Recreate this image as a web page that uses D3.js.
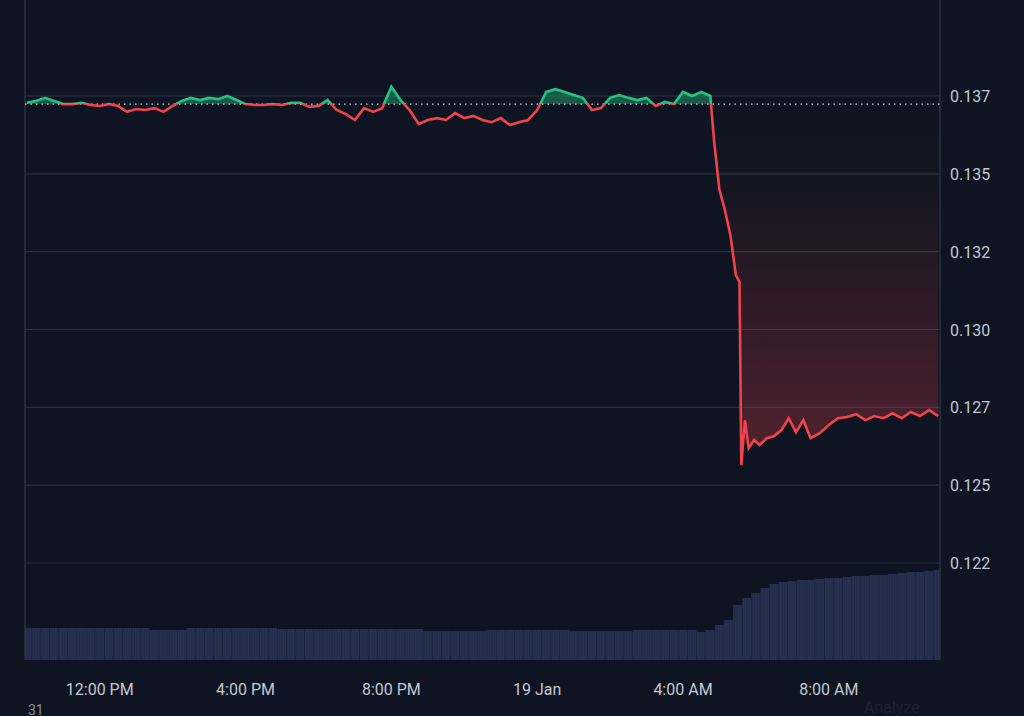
<!DOCTYPE html><html><head><meta charset="utf-8">
<script src="https://cdn.jsdelivr.net/npm/d3@7"></script>
<style>body{margin:0;background:#0e1421;}svg{display:block}</style></head><body>
<script>
const hours=[0,0.25,0.5,0.75,1,1.25,1.5,1.75,2,2.25,2.5,2.75,3,3.25,3.5,3.75,4,4.25,4.5,4.75,5,5.25,5.5,5.75,6,6.25,6.5,6.75,7,7.25,7.5,7.75,8,8.25,8.5,8.75,9,9.25,9.5,9.75,10,10.25,10.5,10.75,11,11.25,11.5,11.75,12,12.25,12.5,12.75,13,13.25,13.5,13.75,14,14.25,14.5,14.75,15,15.25,15.5,15.75,16,16.25,16.5,16.75,17,17.25,17.5,17.75,18,18.25,18.5,18.75,18.85,19,19.15,19.3,19.45,19.55,19.6,19.7,19.8,19.95,20.1,20.3,20.5,20.7,20.9,21.1,21.3,21.5,21.75,22,22.25,22.5,22.75,23,23.25,23.5,23.75,24,24.25,24.5,24.75,25];
const prices=[0.13728,0.13734,0.13744,0.13734,0.13724,0.13724,0.13728,0.13721,0.13718,0.13724,0.13718,0.13699,0.13708,0.13705,0.13711,0.13699,0.13718,0.13734,0.13744,0.13737,0.13744,0.13740,0.13750,0.13737,0.13724,0.13721,0.13721,0.13724,0.13721,0.13728,0.13728,0.13715,0.13718,0.13737,0.13705,0.13692,0.13673,0.13711,0.13699,0.13711,0.13780,0.13737,0.13705,0.13660,0.13673,0.13679,0.13673,0.13695,0.13679,0.13686,0.13673,0.13666,0.13679,0.13657,0.13666,0.13673,0.13705,0.13763,0.13772,0.13763,0.13753,0.13744,0.13705,0.13711,0.13744,0.13753,0.13744,0.13737,0.13744,0.13718,0.13731,0.13724,0.13763,0.13750,0.13763,0.13750,0.13609,0.13448,0.13384,0.13303,0.13175,0.13152,0.12564,0.12709,0.12619,0.12645,0.12629,0.12651,0.12658,0.12677,0.12715,0.12670,0.12709,0.12651,0.12667,0.12693,0.12715,0.12719,0.12728,0.12709,0.12722,0.12715,0.12731,0.12715,0.12735,0.12722,0.12741,0.12722];
const baseline=0.13724;
const volHours=d3.range(0,25.25,0.25);
const volumes=[32,32,32,32,32,32,32,32,32,32,32,32,32,32,30,30,30,30,32,32,32,32,32,32,32,32,32,32,31,31,31,31,31,31,31,31,31,31,31,31,31,31,31,31,29,29,29,29,29,29,29,30,30,30,30,30,30,30,30,30,29,29,29,29,29,29,29,30,30,30,30,30,30,30,28,30,35,40,55,62,67,72,76,78,79,80,80,81,82,82,83,84,84,85,85,86,87,88,88,89,90];
const priceTicks=[0.1375,0.135,0.1325,0.13,0.1275,0.125,0.1225];
const tickLabels=["0.137","0.135","0.132","0.130","0.127","0.125","0.122"];
const timeTicks=[2,6,10,14,18,22];
const timeLabels=["12:00 PM","4:00 PM","8:00 PM","19 Jan","4:00 AM","8:00 AM"];

const W=1024,H=716,L=25,R=940,B=660;
const svg=d3.select("body").append("svg").attr("width",W).attr("height",H);
svg.append("rect").attr("width",W).attr("height",H).attr("fill","#0e1421");
const x=d3.scaleLinear().domain([-0.05,25.05]).range([L,R]);
const y=d3.scaleLinear().domain([0.1225,0.1375]).range([563,96]);
const yv=d3.scaleLinear().domain([0,100]).range([B,560]);
const defs=svg.append("defs");
const g=defs.append("linearGradient").attr("id","rg").attr("gradientUnits","userSpaceOnUse").attr("x1",0).attr("x2",0).attr("y1",y(baseline)).attr("y2",y(0.1256));
g.append("stop").attr("offset",0).attr("stop-color","#f0434b").attr("stop-opacity",0);
g.append("stop").attr("offset",0.25).attr("stop-color","#f0434b").attr("stop-opacity",0.04);
g.append("stop").attr("offset",1).attr("stop-color","#f0434b").attr("stop-opacity",0.3);
defs.append("clipPath").attr("id","above").append("rect").attr("x",0).attr("y",0).attr("width",W).attr("height",y(baseline));
defs.append("clipPath").attr("id","below").append("rect").attr("x",0).attr("y",y(baseline)).attr("width",W).attr("height",H);
defs.append("clipPath").attr("id","plot").append("rect").attr("x",L).attr("y",0).attr("width",R-L).attr("height",H);

svg.selectAll(".gl").data(priceTicks).join("line").attr("x1",L).attr("x2",R).attr("y1",d=>y(d)).attr("y2",d=>y(d)).attr("stroke","#2a3242").attr("stroke-width",1.2);
svg.append("line").attr("x1",L).attr("x2",L).attr("y1",0).attr("y2",B).attr("stroke","#2a3242").attr("stroke-width",1.5);
svg.append("line").attr("x1",R).attr("x2",R).attr("y1",0).attr("y2",B).attr("stroke","#2a3242").attr("stroke-width",1.5);
svg.selectAll(".tl").data(priceTicks).join("text").attr("x",950).attr("y",d=>y(d)+6).text((d,i)=>tickLabels[i]).attr("fill","#c3c8d3").attr("font-family","Roboto, sans-serif").attr("font-size",16);

const vg=svg.append("g").attr("clip-path","url(#plot)");
vg.selectAll(".vb").data(volumes).join("rect").attr("x",(d,i)=>x(volHours[i])-4.6).attr("width",9.1).attr("y",d=>yv(d)).attr("height",d=>B-yv(d)).attr("fill","#26304f");
vg.selectAll(".vs").data(d3.range(L+2,R,2.5)).join("line").attr("x1",d=>d).attr("x2",d=>d).attr("y1",560).attr("y2",B).attr("stroke","#0e1421").attr("stroke-opacity",0.25).attr("stroke-width",0.6);

const pts=hours.map((h,i)=>[h,prices[i]]);
const area=d3.area().x(d=>x(d[0])).y0(y(baseline)).y1(d=>y(d[1]));
svg.append("path").attr("d",area(pts)).attr("fill","#26c281").attr("fill-opacity",0.4).attr("clip-path","url(#above)");
svg.append("path").attr("d",area(pts)).attr("fill","url(#rg)").attr("clip-path","url(#below)");
svg.append("line").attr("x1",L).attr("x2",R).attr("y1",y(baseline)).attr("y2",y(baseline)).attr("stroke","#c8ccd6").attr("stroke-width",1.3).attr("stroke-dasharray","1.5,4");
const line=d3.line().x(d=>x(d[0])).y(d=>y(d[1]));
svg.append("path").attr("d",line(pts)).attr("fill","none").attr("stroke","#26c281").attr("stroke-width",2.6).attr("clip-path","url(#above)");
svg.append("path").attr("d",line(pts)).attr("fill","none").attr("stroke","#f0434b").attr("stroke-width",2.6).attr("clip-path","url(#below)");

svg.selectAll(".xl").data(timeTicks).join("text").attr("x",d=>x(d)).attr("y",695).attr("text-anchor","middle").text((d,i)=>timeLabels[i]).attr("fill","#c3c8d3").attr("font-family","Roboto, sans-serif").attr("font-size",16);
svg.append("text").attr("x",28).attr("y",715).text("31").attr("fill","#8a909c").attr("font-family","Roboto, sans-serif").attr("font-size",14);
svg.append("text").attr("x",864).attr("y",713).text("Analyze").attr("fill","#1c2330").attr("font-family","Roboto, sans-serif").attr("font-size",16);
</script></body></html>
